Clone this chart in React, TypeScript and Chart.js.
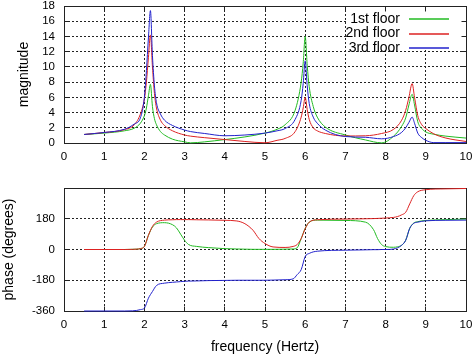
import React, { useEffect, useRef } from 'react';
import { Chart, registerables } from 'chart.js';

Chart.register(...registerables);

// ---- data ----
const seriesLabels = ['1st floor', '2nd floor', '3rd floor'];
const seriesColors = ['#22bb22', '#dd2222', '#2222cc'];

const freqTicks = [0, 1, 2, 3, 4, 5, 6, 7, 8, 9, 10];
const magTicks = [0, 2, 4, 6, 8, 10, 12, 14, 16, 18];
const phaseTicks = [-360, -180, 0, 180];

const magFreq = [0.5, 1.0, 1.5, 1.75, 1.9, 2.0, 2.05, 2.1, 2.15, 2.2, 2.25, 2.3, 2.4, 2.5, 2.7, 3.0, 3.15, 3.5, 4.0, 4.5, 5.0, 5.3, 5.5, 5.75, 5.9, 5.95, 6.0, 6.05, 6.1, 6.2, 6.3, 6.5, 7.0, 7.5, 7.9, 8.2, 8.4, 8.5, 8.58, 8.66, 8.72, 8.8, 8.9, 9.0, 9.2, 9.5, 10.0];
const magFirst = [1.12, 1.3, 1.6, 1.95, 2.6, 3.6, 4.6, 6.2, 7.7, 4.8, 3.2, 2.4, 1.5, 1.05, 0.5, 0.15, 0.02, 0.15, 0.45, 0.8, 1.3, 1.8, 2.4, 4.3, 8.0, 10.5, 14.0, 10.2, 7.4, 4.8, 3.4, 2.1, 1.05, 0.4, 0.02, 0.9, 2.2, 3.3, 5.0, 6.4, 5.0, 2.8, 1.9, 1.45, 1.15, 0.9, 0.65];
const magSecond = [1.12, 1.38, 1.75, 2.4, 3.8, 5.8, 8.0, 11.2, 14.2, 10.0, 6.5, 4.6, 3.0, 2.3, 1.6, 1.05, 0.9, 0.7, 0.45, 0.2, 0.03, 0.35, 0.6, 1.5, 3.4, 4.6, 6.0, 4.4, 3.1, 2.0, 1.6, 1.25, 0.92, 0.95, 1.25, 1.8, 3.0, 4.3, 6.0, 7.8, 6.0, 3.6, 2.4, 1.9, 1.2, 0.65, 0.2];
const magThird = [1.12, 1.38, 1.8, 2.5, 3.3, 6.0, 9.5, 13.8, 17.4, 11.5, 7.5, 5.3, 3.8, 3.0, 2.3, 1.7, 1.5, 1.25, 0.95, 1.05, 1.3, 1.6, 1.9, 3.1, 5.6, 7.8, 10.8, 7.5, 5.2, 3.4, 2.6, 1.7, 0.85, 0.75, 0.55, 0.85, 1.4, 2.0, 2.7, 3.4, 2.6, 1.3, 0.7, 0.35, 0.05, 0.05, 0.05];

const phaseFreq = [0.5, 1.5, 1.7, 1.8, 1.9, 2.0, 2.1, 2.2, 2.3, 2.5, 2.7, 2.8, 2.9, 3.0, 3.1, 3.3, 3.6, 4.0, 4.3, 4.5, 4.7, 4.85, 5.0, 5.2, 5.5, 5.7, 5.8, 5.9, 6.0, 6.1, 6.3, 7.0, 7.5, 7.7, 7.8, 7.9, 8.0, 8.2, 8.3, 8.4, 8.5, 8.6, 8.7, 8.8, 9.0, 9.5, 10.0];
const phaseFirst = [0, 0, 1, 2, 5, 18, 83, 131, 151, 157, 145, 126, 90, 54, 29, 18, 11, 5, 3, 2, 1, 1, 1, 1, 2, 3, 10, 64, 124, 160, 172, 170, 160, 116, 64, 29, 17, 13, 16, 25, 54, 124, 155, 163, 170, 175, 178];
const phaseSecond = [0, 0, 1, 2, 5, 18, 83, 135, 160, 172, 174, 175, 175, 175, 175, 174, 173, 171, 167, 151, 113, 64, 35, 15, 12, 18, 29, 64, 122, 160, 174, 178, 180, 181, 182, 183, 184, 188, 193, 203, 218, 267, 315, 338, 350, 355, 357];
const phaseThird = [-360, -360, -359, -357, -352, -343, -285, -246, -211, -197, -192, -190, -188, -186, -185, -184, -182, -181, -180, -180, -180, -180, -180, -179, -177, -172, -147, -118, -41, -23, -10, -4, -2, -1, -1, 0, 0, 3, 10, 25, 54, 124, 153, 160, 168, 171, 172];

// ---- styling ----
const FAMILY = "'Liberation Sans', Arial, Helvetica, sans-serif";
const TICK_FONT = { family: FAMILY, size: 11.5, lineHeight: 0.9 };
const XTICK_FONT = { family: FAMILY, size: 11.5, lineHeight: 1.2 };
const TITLE_FONT = { family: FAMILY, size: 14, lineHeight: 1 };

const align = (p: number) => Math.round(p - 0.5) + 0.5;

const framePlugin = {
  id: 'frame',
  beforeDatasetsDraw(chart: any, _args: any, opts: any) {
    const { ctx, chartArea: a } = chart;
    ctx.save();
    ctx.setLineDash([]);
    ctx.globalAlpha = 1;
    if (opts && opts.key) {
      ctx.fillStyle = '#ffffff';
      ctx.fillRect(a.right - 119, a.top + 1, 119, 43);
      ctx.font = `14px ${FAMILY}`;
      ctx.textAlign = 'right';
      ctx.textBaseline = 'middle';
      seriesLabels.forEach((label, i) => {
        const y = a.top + 13 + i * 14.5;
        ctx.fillStyle = '#000';
        ctx.fillText(label, a.right - 66, y);
        ctx.strokeStyle = seriesColors[i];
        ctx.lineWidth = 1.6;
        ctx.beginPath();
        ctx.moveTo(a.right - 57, Math.round(y));
        ctx.lineTo(a.right - 17, Math.round(y));
        ctx.stroke();
      });
    }
    const l = align(a.left), r = align(a.right), t = align(a.top), b = align(a.bottom);
    ctx.strokeStyle = '#222';
    ctx.lineWidth = 1;
    ctx.beginPath();
    const xs = chart.scales.x, ys = chart.scales.y;
    xs.ticks.forEach((tk: any) => {
      const px = align(xs.getPixelForValue(tk.value));
      ctx.moveTo(px, b); ctx.lineTo(px, b - 5);
      ctx.moveTo(px, t); ctx.lineTo(px, t + 5);
    });
    ys.ticks.forEach((tk: any) => {
      const py = align(ys.getPixelForValue(tk.value));
      ctx.moveTo(l, py); ctx.lineTo(l + 5, py);
      ctx.moveTo(r, py); ctx.lineTo(r - 5, py);
    });
    ctx.stroke();
    ctx.strokeRect(l, t, r - l, b - t);
    ctx.restore();
  },
};

function pts(xs: number[], ys: number[]) {
  return xs.map((x, i) => ({ x, y: ys[i] }));
}

function makeDatasets(xs: number[], series: number[][]) {
  return series.map((ys, i) => ({
    label: seriesLabels[i],
    data: pts(xs, ys),
    borderColor: seriesColors[i],
    backgroundColor: seriesColors[i],
    borderWidth: 1,
    pointRadius: 0,
    fill: false,
    cubicInterpolationMode: 'monotone' as const,
    clip: 2,
    order: 3 - i,
  }));
}

function xScale(height: number, title?: string) {
  return {
    type: 'linear' as const,
    min: 0,
    max: 10,
    afterBuildTicks: (s: any) => { s.ticks = freqTicks.map((v) => ({ value: v })); },
    afterFit: (s: any) => {
      s.height = height;
      s.paddingLeft = 0;
      s.paddingRight = 0;
      s.paddingTop = 0;
      s.paddingBottom = 0;
    },
    grid: { color: '#222', lineWidth: 1, drawTicks: false },
    border: { display: false, dash: [2, 2] },
    ticks: { font: XTICK_FONT, padding: 7, color: '#000', maxRotation: 0, autoSkip: false },
    title: title
      ? { display: true, text: title, font: TITLE_FONT, color: '#000', padding: { top: 0, bottom: 0.3 } }
      : { display: false },
  };
}

function yScale(min: number, max: number, ticks: number[], title: string, titlePad: number) {
  return {
    type: 'linear' as const,
    min,
    max,
    afterBuildTicks: (s: any) => { s.ticks = ticks.map((v) => ({ value: v })); },
    afterFit: (s: any) => {
      s.width = 64;
      s.paddingLeft = 0;
      s.paddingRight = 0;
      s.paddingTop = 0;
      s.paddingBottom = 0;
    },
    grid: { color: '#222', lineWidth: 1, drawTicks: false },
    border: { display: false, dash: [2, 2] },
    ticks: { font: TICK_FONT, padding: 9, color: '#000', autoSkip: false },
    title: { display: true, text: title, font: TITLE_FONT, color: '#000', padding: { top: titlePad, bottom: 0 } },
  };
}

export default function App() {
  const topRef = useRef<HTMLCanvasElement>(null);
  const botRef = useRef<HTMLCanvasElement>(null);

  useEffect(() => {
    Chart.defaults.color = '#000';
    const top = new Chart(topRef.current as HTMLCanvasElement, {
      type: 'line',
      data: { datasets: makeDatasets(magFreq, [magFirst, magSecond, magThird]) as any },
      options: {
        responsive: false,
        animation: false,
        devicePixelRatio: 1,
        layout: { padding: { left: 0, right: 8, top: 6, bottom: 0 } },
        plugins: { legend: { display: false }, tooltip: { enabled: false }, frame: { key: true } } as any,
        scales: {
          x: xScale(32) as any,
          y: yScale(0, 18, magTicks, 'magnitude', 17) as any,
        },
      },
      plugins: [framePlugin],
    });
    const bot = new Chart(botRef.current as HTMLCanvasElement, {
      type: 'line',
      data: { datasets: makeDatasets(phaseFreq, [phaseFirst, phaseSecond, phaseThird]) as any },
      options: {
        responsive: false,
        animation: false,
        devicePixelRatio: 1,
        layout: { padding: { left: 0, right: 8, top: 13, bottom: 0 } },
        plugins: { legend: { display: false }, tooltip: { enabled: false }, frame: { key: false } } as any,
        scales: {
          x: xScale(43, 'frequency (Hertz)') as any,
          y: yScale(-360, 360, phaseTicks, 'phase (degrees)', 2.5) as any,
        },
      },
      plugins: [framePlugin],
    });
    return () => {
      top.destroy();
      bot.destroy();
    };
  }, []);

  return (
    <div style={{ position: 'absolute', left: 0, top: 0, width: 474, height: 354, background: '#fff' }}>
      <canvas ref={topRef} width={474} height={175} style={{ display: 'block', width: 474, height: 175 }} />
      <canvas ref={botRef} width={474} height={179} style={{ display: 'block', width: 474, height: 179 }} />
    </div>
  );
}
